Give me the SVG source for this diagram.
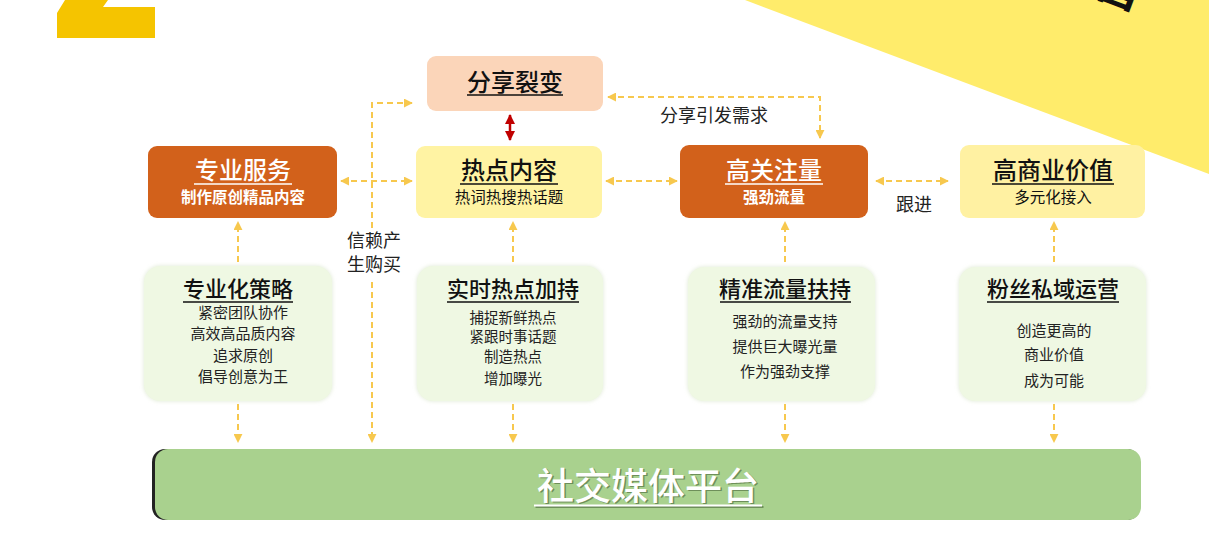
<svg xmlns="http://www.w3.org/2000/svg" width="1209" height="538" viewBox="0 0 1209 538">
<style>
text{font-family:"Noto Sans CJK SC","Noto Sans",sans-serif;text-anchor:middle}
.t24{font-size:24px;font-weight:500}
.t22{font-size:22px;font-weight:500}
.s16{font-size:15.5px}
.l15{font-size:15px;fill:#222}
.l14{font-size:14.5px;fill:#222}
.lab{font-size:18px;fill:#222}
.wt{fill:#fff}
.bk{fill:#111}
.ulw{stroke:#fff;stroke-width:1.5}
.ulb{stroke:#111;stroke-width:1.5}
.dash{fill:none;stroke:#F7C84E;stroke-width:2;stroke-dasharray:6 4}
.green{fill:#EFF8E3}
</style>
<defs>
<marker id="ya" viewBox="0 0 10 10" refX="9" refY="5" markerWidth="9" markerHeight="9" markerUnits="userSpaceOnUse" orient="auto-start-reverse">
<path d="M0,0 L10,5 L0,10 z" fill="#F7C84E"/>
</marker>
<marker id="ra" viewBox="0 0 10 10" refX="9" refY="5" markerWidth="10" markerHeight="10" markerUnits="userSpaceOnUse" orient="auto-start-reverse">
<path d="M0,0 L10,5 L0,10 z" fill="#C00000"/>
</marker>
<filter id="glow" x="-10%" y="-10%" width="120%" height="120%">
<feDropShadow dx="0" dy="0" stdDeviation="2" flood-color="#dbe6cf" flood-opacity="0.9"/>
</filter>
</defs>

<g id="decor">
<polygon points="57,13 65,0 108,0 103,7 155,7 155,38 57,38" fill="#F5C400"/>
<polygon points="745,0 1209,0 1209,174" fill="#FFEC6B"/>
<text transform="translate(1092,-6) rotate(20.5)" style="font-size:48px;font-weight:bold;text-anchor:start" fill="#111">营</text>
</g>

<g id="connectors">
<line class="dash" x1="341" y1="181" x2="412" y2="181" marker-start="url(#ya)" marker-end="url(#ya)"/>
<line class="dash" x1="606" y1="181" x2="677" y2="181" marker-start="url(#ya)" marker-end="url(#ya)"/>
<line class="dash" x1="876" y1="181" x2="948" y2="181" marker-start="url(#ya)" marker-end="url(#ya)"/>
<path class="dash" d="M372,228 L372,103 L412,103" marker-end="url(#ya)"/>
<line class="dash" x1="372" y1="282" x2="372" y2="442" marker-end="url(#ya)"/>
<path class="dash" d="M608,97 L820,97 L820,138" marker-start="url(#ya)" marker-end="url(#ya)"/>
<line x1="510" y1="115" x2="510" y2="140" stroke="#C00000" stroke-width="2.5" marker-start="url(#ra)" marker-end="url(#ra)"/>
<line class="dash" x1="238" y1="262" x2="238" y2="222" marker-end="url(#ya)"/>
<line class="dash" x1="513" y1="262" x2="513" y2="222" marker-end="url(#ya)"/>
<line class="dash" x1="785" y1="262" x2="785" y2="222" marker-end="url(#ya)"/>
<line class="dash" x1="1054" y1="262" x2="1054" y2="222" marker-end="url(#ya)"/>
<line class="dash" x1="238" y1="404" x2="238" y2="442" marker-end="url(#ya)"/>
<line class="dash" x1="513" y1="404" x2="513" y2="442" marker-end="url(#ya)"/>
<line class="dash" x1="785" y1="404" x2="785" y2="442" marker-end="url(#ya)"/>
<line class="dash" x1="1054" y1="404" x2="1054" y2="442" marker-end="url(#ya)"/>
<text class="lab" x="714" y="122">分享引发需求</text>
<text class="lab" x="914" y="211">跟进</text>
<text class="lab" x="374" y="247">信赖产</text>
<text class="lab" x="374" y="271">生购买</text>
</g>

<g id="fenxiang">
<rect x="427" y="56" width="176" height="55" rx="9" fill="#FBD5B9"/>
<text class="t24 bk" x="515" y="91">分享裂变</text>
<line class="ulb" x1="467" y1="95" x2="563" y2="95"/>
</g>

<g id="zhuanye">
<rect x="148" y="146" width="189" height="72" rx="9" fill="#D2611B"/>
<text class="t24 wt" x="243" y="179">专业服务</text>
<line class="ulw" x1="194" y1="184" x2="292" y2="184"/>
<text class="s16 wt" x="243" y="203" font-weight="bold">制作原创精品内容</text>
</g>

<g id="redian">
<rect x="416" y="146" width="186" height="72" rx="9" fill="#FFF3A3"/>
<text class="t24 bk" x="509" y="179">热点内容</text>
<line class="ulb" x1="460" y1="184" x2="558" y2="184"/>
<text class="s16 bk" x="509" y="203">热词热搜热话题</text>
</g>

<g id="gaoguanzhu">
<rect x="680" y="145" width="188" height="73" rx="9" fill="#D2611B"/>
<text class="t24 wt" x="774" y="179">高关注量</text>
<line class="ulw" x1="725" y1="184" x2="823" y2="184"/>
<text class="s16 wt" x="774" y="203" font-weight="bold">强劲流量</text>
</g>

<g id="shangye">
<rect x="960" y="145" width="185" height="73" rx="9" fill="#FFF1A2"/>
<text class="t24 bk" x="1053" y="179">高商业价值</text>
<line class="ulb" x1="992" y1="184" x2="1114" y2="184"/>
<text class="s16 bk" x="1053" y="203">多元化接入</text>
</g>

<g id="celue">
<rect class="green" x="144" y="266" width="188" height="135" rx="16" filter="url(#glow)"/>
<text class="t22 bk" x="238" y="297">专业化策略</text>
<line class="ulb" x1="183" y1="302" x2="293" y2="302"/>
<text class="l15" x="243" y="318">紧密团队协作</text>
<text class="l15" x="243" y="339">高效高品质内容</text>
<text class="l15" x="243" y="361">追求原创</text>
<text class="l15" x="243" y="382">倡导创意为王</text>
</g>

<g id="shishi">
<rect class="green" x="417" y="266" width="186" height="135" rx="16" filter="url(#glow)"/>
<text class="t22 bk" x="513" y="297">实时热点加持</text>
<line class="ulb" x1="447" y1="302" x2="579" y2="302"/>
<text class="l14" x="513" y="323">捕捉新鲜热点</text>
<text class="l14" x="513" y="342">紧跟时事话题</text>
<text class="l14" x="513" y="362">制造热点</text>
<text class="l14" x="513" y="384">增加曝光</text>
</g>

<g id="jingzhun">
<rect class="green" x="688" y="267" width="187" height="134" rx="16" filter="url(#glow)"/>
<text class="t22 bk" x="785" y="297">精准流量扶持</text>
<line class="ulb" x1="720" y1="302" x2="851" y2="302"/>
<text class="l15" x="785" y="327">强劲的流量支持</text>
<text class="l15" x="785" y="352">提供巨大曝光量</text>
<text class="l15" x="785" y="377">作为强劲支撑</text>
</g>

<g id="fensi">
<rect class="green" x="959" y="267" width="187" height="134" rx="16" filter="url(#glow)"/>
<text class="t22 bk" x="1053" y="297">粉丝私域运营</text>
<line class="ulb" x1="987" y1="302" x2="1119" y2="302"/>
<text class="l15" x="1054" y="336">创造更高的</text>
<text class="l15" x="1054" y="360">商业价值</text>
<text class="l15" x="1054" y="386">成为可能</text>
</g>

<g id="pingtai">
<rect x="152" y="449" width="988" height="71" rx="13" fill="#222"/>
<rect x="155" y="449" width="986" height="71" rx="13" fill="#A9D18E"/>
<text x="649.5" y="501" style="font-size:37px;font-weight:500" fill="#6E8F5A">社交媒体平台</text>
<line x1="535.5" y1="507" x2="763.5" y2="507" stroke="#6E8F5A" stroke-width="2"/>
<text x="648" y="499.5" style="font-size:37px;font-weight:500" fill="#fff">社交媒体平台</text>
<line x1="534" y1="505.5" x2="762" y2="505.5" stroke="#fff" stroke-width="2"/>
</g>
</svg>
